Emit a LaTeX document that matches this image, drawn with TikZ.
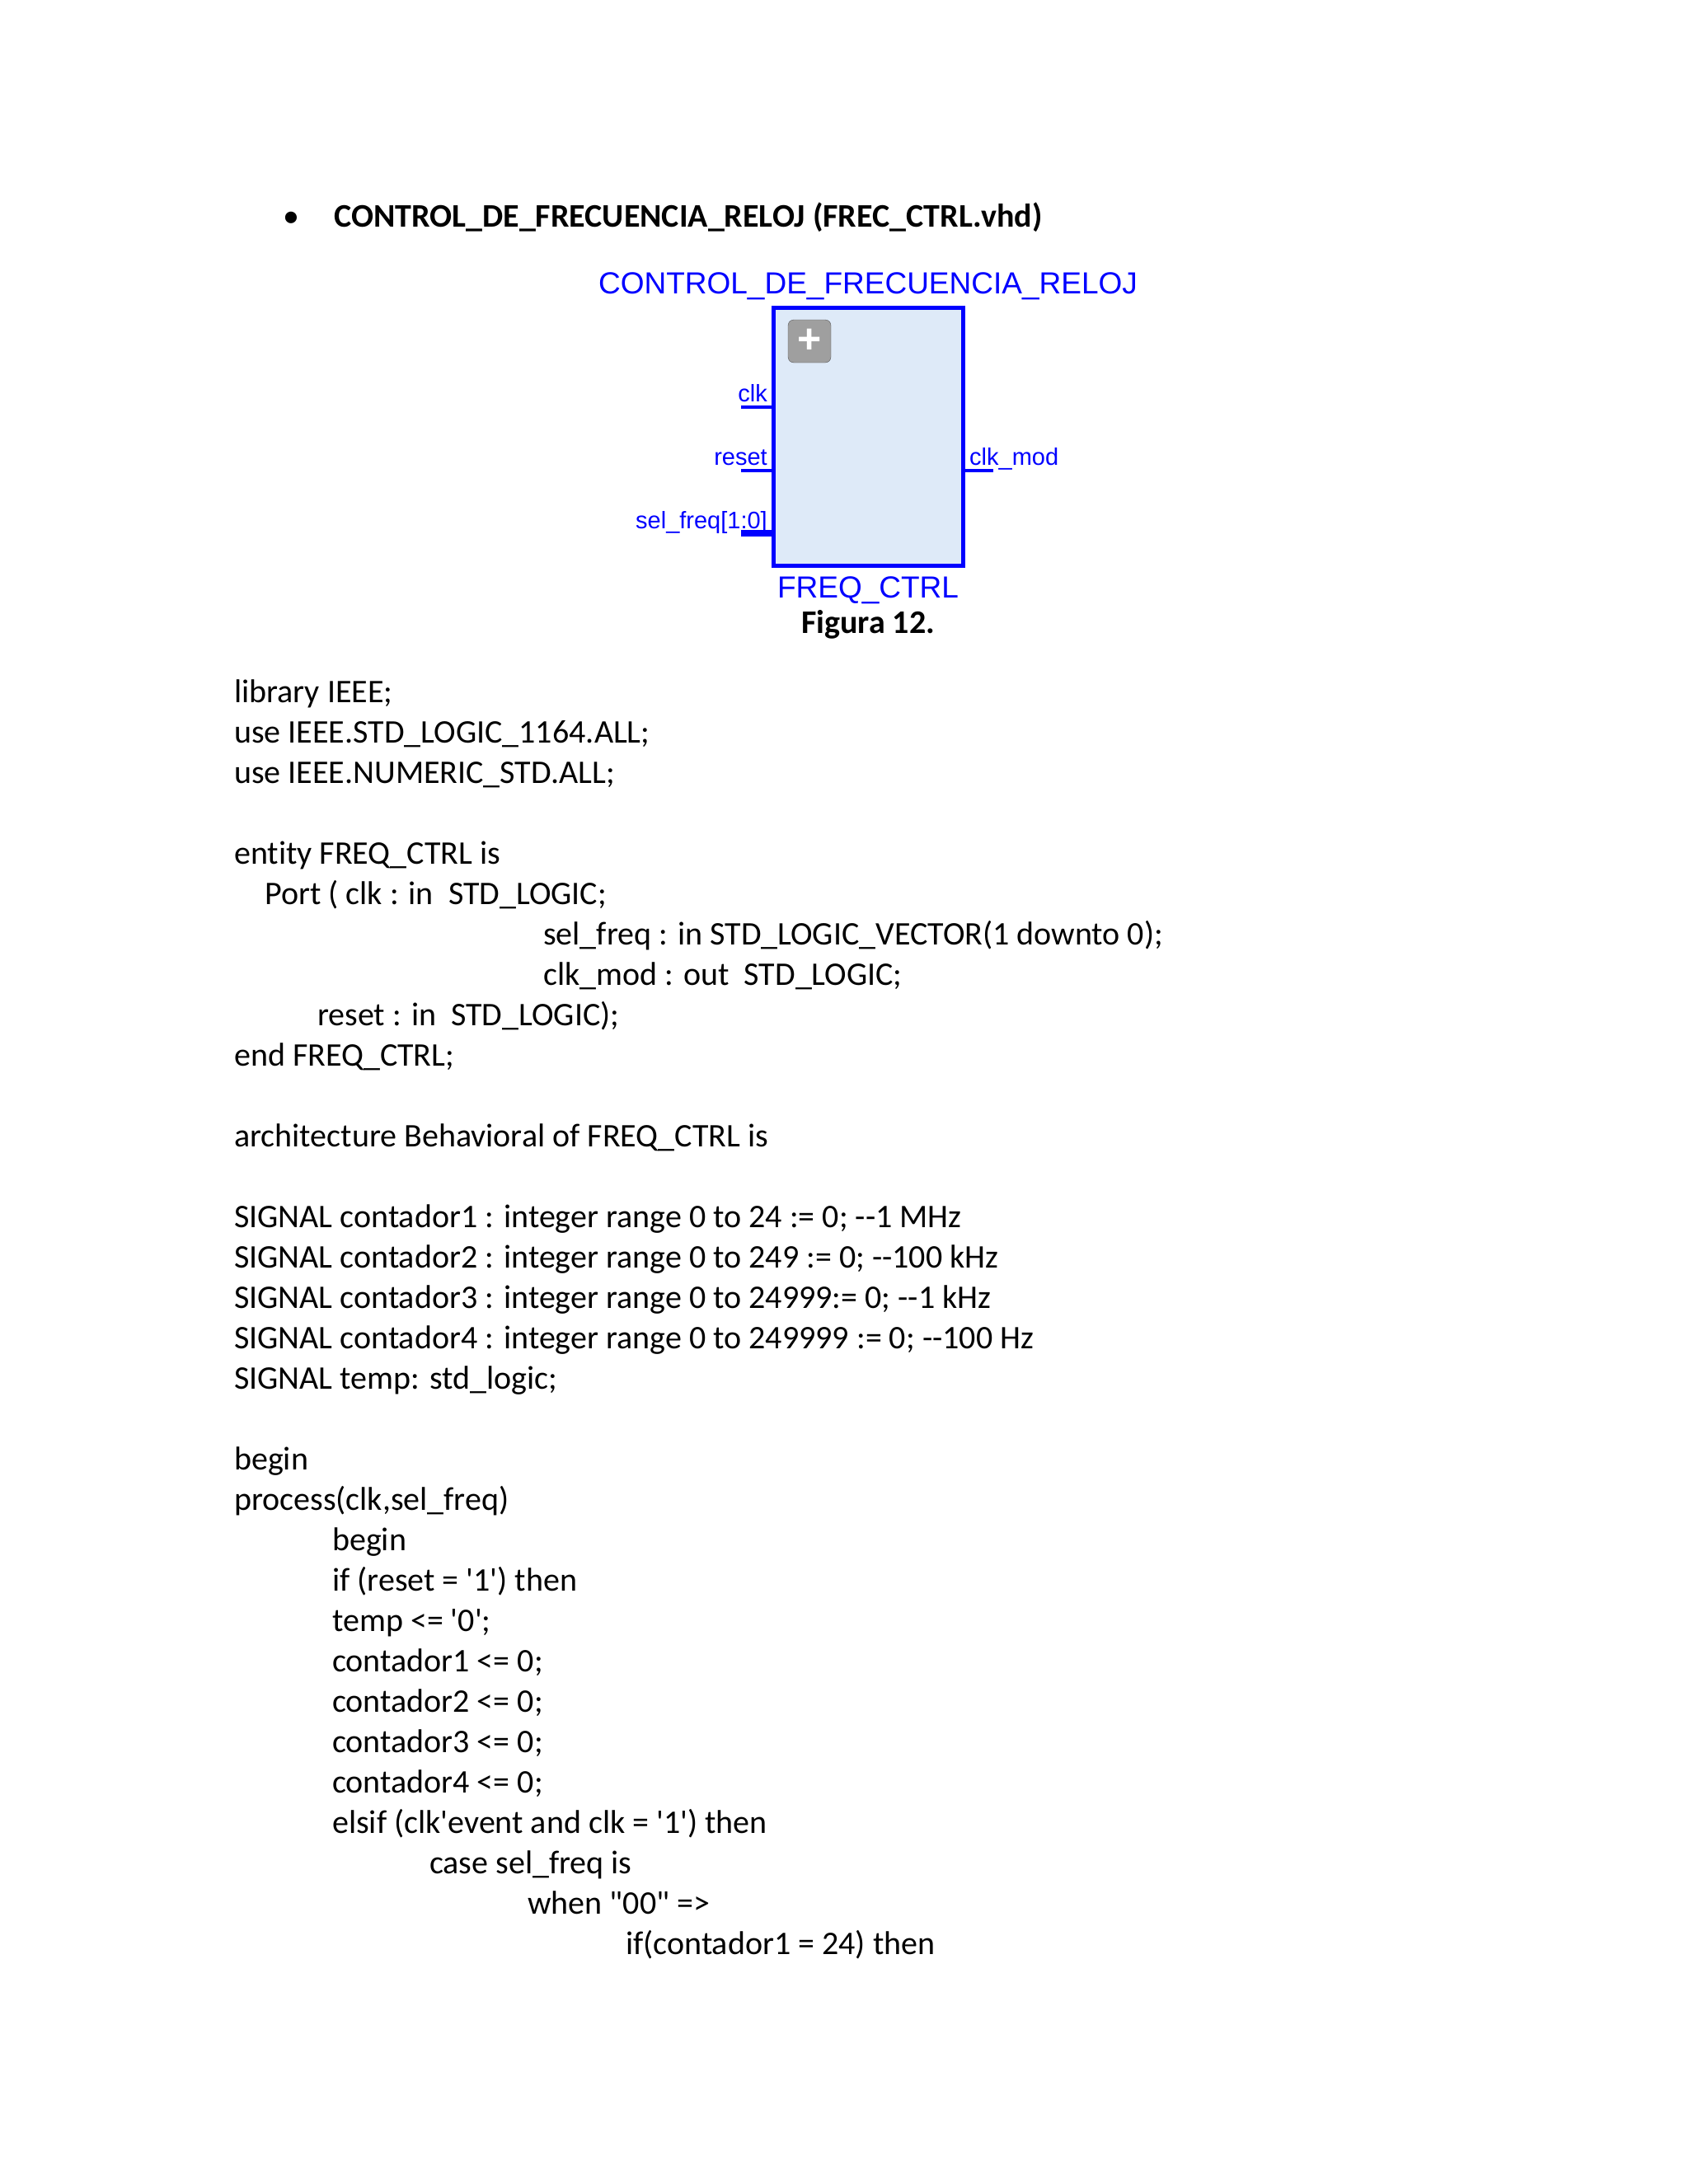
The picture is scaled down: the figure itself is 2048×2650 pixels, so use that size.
\documentclass[tikz,border=0pt]{standalone}
\usepackage{fontspec}
\newfontfamily\calf[Ligatures={NoCommon}]{Carlito}
\newfontfamily\arialf{Liberation Sans}
\begin{document}
\begin{tikzpicture}[x=1pt,y=-1pt,
  code/.style={anchor=base west,inner sep=0,font=\calf\fontsize{40}{46}\selectfont},
  pinlab/.style={text=blue,inner sep=0,font=\arialf\fontsize{29}{30}\selectfont},
  pin/.style={blue,line width=4pt}]
\useasboundingbox (0,0) rectangle (2048,2650);
\fill[white] (0,0) rectangle (2048,2650);
\node[code] (bul) at (343,275) {\textbullet};
\node[code,font=\calf\bfseries\fontsize{40}{46}\selectfont] (hdr) at (405,275) {CONTROL\_DE\_FRECUENCIA\_RELOJ (FREC\_CTRL.vhd)};
\node[text=blue,inner sep=0,font=\arialf\fontsize{37}{40}\selectfont] (title) at (1053,347) {CONTROL\_DE\_FRECUENCIA\_RELOJ};
\draw[blue,line width=5pt,fill={rgb,255:red,222;green,234;blue,248}] (938,373) rectangle (1168,686);
\node[draw=gray!70!black,fill=gray!75,rounded corners=7pt,minimum size=52pt,inner sep=0,text=white,font=\arialf\bfseries\fontsize{50}{50}\selectfont] (plus) at (982,414) {+};
\draw[pin] (899,494) -- (938,494);
\draw[pin] (899,571) -- (938,571);
\draw[blue,line width=8pt] (899,647) -- (938,647);
\draw[pin] (1168,571) -- (1205,571);
\node[pinlab,anchor=base east] (lclk) at (931,487) {clk};
\node[pinlab,anchor=base east] (lrst) at (931,564) {reset};
\node[pinlab,anchor=base east] (lsel) at (931,641) {sel\_freq[1:0]};
\node[pinlab,anchor=base west] (lout) at (1176,564) {clk\_mod};
\node[text=blue,inner sep=0,font=\arialf\fontsize{37}{40}\selectfont] (fc) at (1053,716) {FREQ\_CTRL};
\node[inner sep=0,font=\calf\bfseries\fontsize{40}{46}\selectfont] (fig) at (1053,758) {Figura 12.};
\foreach \t/\x/\y in {
 {library IEEE;}/284/852,
 {use IEEE.STD\_LOGIC\_1164.ALL;}/284/901,
 {use IEEE.NUMERIC\_STD.ALL;}/284/950,
 {entity FREQ\_CTRL is}/284/1048,
 {Port ( clk : in\ \ STD\_LOGIC;}/321/1097,
 {sel\_freq : in STD\_LOGIC\_VECTOR(1 downto 0);}/659/1146,
 {clk\_mod : out\ \ STD\_LOGIC;}/659/1195,
 {reset : in\ \ STD\_LOGIC);}/385/1244,
 {end FREQ\_CTRL;}/284/1293,
 {architecture Behavioral of FREQ\_CTRL is}/284/1391,
 {SIGNAL contador1 : integer range 0 to 24 := 0; --1 MHz}/284/1489,
 {SIGNAL contador2 : integer range 0 to 249 := 0; --100 kHz}/284/1538,
 {SIGNAL contador3 : integer range 0 to 24999:= 0; --1 kHz}/284/1587,
 {SIGNAL contador4 : integer range 0 to 249999 := 0; --100 Hz}/284/1636,
 {SIGNAL temp: std\_logic;}/284/1685,
 {begin}/284/1783,
 {process(clk,sel\_freq)}/284/1832,
 {begin}/403/1881,
 {if (reset = '1') then}/403/1930,
 {temp <= '0';}/403/1979,
 {contador1 <= 0;}/403/2028,
 {contador2 <= 0;}/403/2077,
 {contador3 <= 0;}/403/2126,
 {contador4 <= 0;}/403/2175,
 {elsif (clk'event and clk = '1') then}/403/2224,
 {case sel\_freq is}/521/2273,
 {when "00" =>}/640/2322,
 {if(contador1 = 24) then}/759/2371}
 { \node[code] at (\x,\y) {\t}; }
\end{tikzpicture}
\end{document}
